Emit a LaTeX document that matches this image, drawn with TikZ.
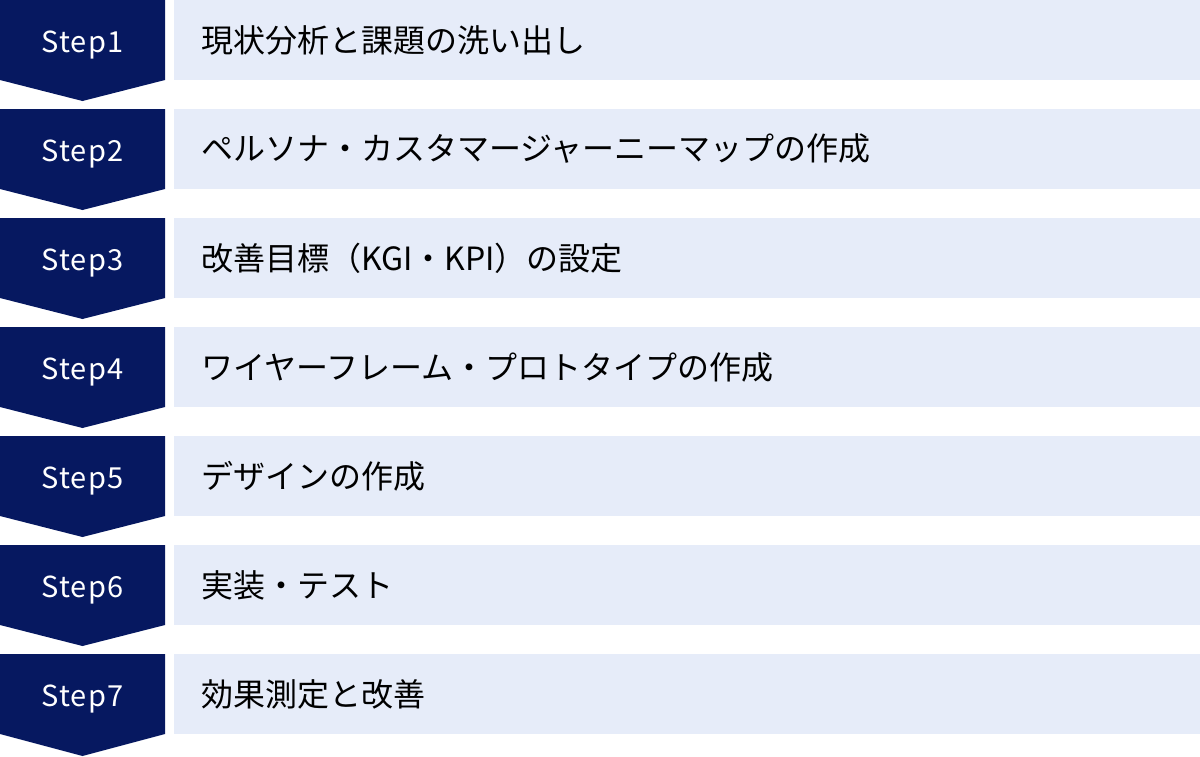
\documentclass[tikz,border=0pt]{standalone}
\usepackage{fontspec}
\setmainfont{Noto Sans CJK JP}
\usetikzlibrary{positioning}

\definecolor{navy}{RGB}{6,24,96}
\definecolor{paleblue}{RGB}{230,236,249}

\tikzset{
  stepflag/.style={fill=navy},
  taskbar/.style={fill=paleblue},
  steplabel/.style={anchor=base, inner sep=0pt, text=white, font=\fontsize{29}{29}\selectfont\addfontfeatures{LetterSpace=4}},
  tasklabel/.style={anchor=west, inner sep=0pt, text=black, font=\fontsize{32}{32}\selectfont}
}

\begin{document}
\begin{tikzpicture}[x=1pt, y=-1pt]
\useasboundingbox (0,0) rectangle (1200,756);

% flags
\fill[stepflag] (0,0) -- (165,0) -- (165,80) -- (82.5,101) -- (0,80) -- cycle;
\fill[stepflag] (0,109) -- (165,109) -- (165,189) -- (82.5,210) -- (0,189) -- cycle;
\fill[stepflag] (0,218) -- (165,218) -- (165,298) -- (82.5,319) -- (0,298) -- cycle;
\fill[stepflag] (0,327) -- (165,327) -- (165,407) -- (82.5,428) -- (0,407) -- cycle;
\fill[stepflag] (0,436) -- (165,436) -- (165,516) -- (82.5,537) -- (0,516) -- cycle;
\fill[stepflag] (0,545) -- (165,545) -- (165,625) -- (82.5,646) -- (0,625) -- cycle;
\fill[stepflag] (0,654) -- (165,654) -- (165,734) -- (82.5,756) -- (0,734) -- cycle;

% bars
\fill[taskbar] (174,0) rectangle (1200,80);
\fill[taskbar] (174,109) rectangle (1200,189);
\fill[taskbar] (174,218) rectangle (1200,298);
\fill[taskbar] (174,327) rectangle (1200,407);
\fill[taskbar] (174,436) rectangle (1200,516);
\fill[taskbar] (174,545) rectangle (1200,625);
\fill[taskbar] (174,654) rectangle (1200,734);

% nodes
\node[steplabel] (S1) at (82.5,52) {Step1};
\node[steplabel] (S2) at (82.5,161) {Step2};
\node[steplabel] (S3) at (82.5,270) {Step3};
\node[steplabel] (S4) at (82.5,379) {Step4};
\node[steplabel] (S5) at (82.5,488) {Step5};
\node[steplabel] (S6) at (82.5,597) {Step6};
\node[steplabel] (S7) at (82.5,706) {Step7};

\node[tasklabel] (T1) at (201,40) {現状分析と課題の洗い出し};
\node[tasklabel] (T2) at (201,149) {ペルソナ・カスタマージャーニーマップの作成};
\node[tasklabel] (T3) at (201,258) {改善目標（KGI・KPI）の設定};
\node[tasklabel] (T4) at (201,367) {ワイヤーフレーム・プロトタイプの作成};
\node[tasklabel] (T5) at (201,476) {デザインの作成};
\node[tasklabel] (T6) at (201,585) {実装・テスト};
\node[tasklabel] (T7) at (201,694) {効果測定と改善};

\end{tikzpicture}
\end{document}
